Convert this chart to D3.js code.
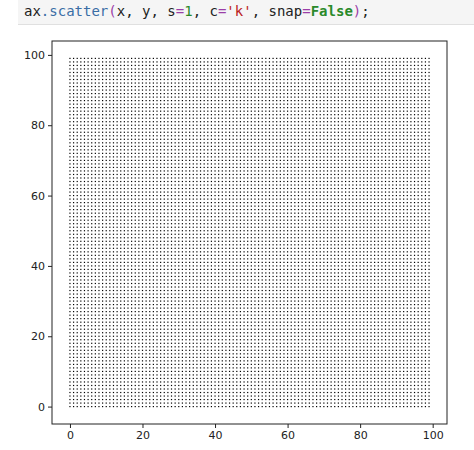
<!DOCTYPE html>
<html><head><meta charset="utf-8">
<script src="https://cdn.jsdelivr.net/npm/d3@7"></script>
<style>
body{margin:0;background:#fff;}
.code{position:absolute;left:18px;top:0;width:460px;height:25px;background:#f5f5f5;border-bottom:1px solid #e0e0e0;
 font-family:"DejaVu Sans Mono",monospace;font-size:14px;line-height:22px;padding-left:6px;color:#212121;box-sizing:border-box;}
.o{color:#9b3ea8}.n{color:#2a8a2a}.s{color:#ba2121}.k{color:#2a8a2a;font-weight:bold}.p{color:#3a6ea5}
svg{position:absolute;left:0;top:0}
</style></head><body>
<svg id="chart" width="474" height="450"></svg>
<div class="code">ax<span class="p">.scatter</span><span class="o">(</span>x, y, s<span class="o">=</span><span class="n">1</span>, c<span class="o">=</span><span class="s">'k'</span>, snap<span class="o">=</span><span class="k">False</span><span class="o">)</span>;</div>
<script>
// grid coordinates: integers 0..99 on each axis
const gridX = d3.range(0, 100);
const gridY = d3.range(0, 100);
const xTicks = [0, 20, 40, 60, 80, 100];
const yTicks = [0, 20, 40, 60, 80, 100];

const svg = d3.select("#chart");
const mLeft = 52, mRight = 447, mTop = 41, mBottom = 424;

const x = d3.scaleLinear().domain([-4.95, 103.95]).range([mLeft, mRight]);
const y = d3.scaleLinear().domain([-4.95, 103.95]).range([mBottom, mTop]);

const pts = [];
gridY.forEach(j => gridX.forEach(i => pts.push([i, j])));

svg.append("g").selectAll("rect")
    .data(pts)
    .enter().append("rect")
    .attr("x", d => x(d[0]) - 0.6)
    .attr("y", d => y(d[1]) - 0.6)
    .attr("width", 1.2)
    .attr("height", 1.2)
    .attr("fill", "#000");

const xAxis = svg.append("g")
    .attr("transform", `translate(0,${mBottom})`)
    .call(d3.axisBottom(x).tickValues(xTicks).tickSize(4).tickPadding(3));
const yAxis = svg.append("g")
    .attr("transform", `translate(${mLeft},0)`)
    .call(d3.axisLeft(y).tickValues(yTicks).tickSize(4).tickPadding(3));

[xAxis, yAxis].forEach(a => {
    a.select(".domain").remove();
    a.selectAll("text").attr("font-family", "DejaVu Sans").attr("font-size", 11).attr("fill", "#222");
    a.selectAll("line").attr("stroke", "#222");
});

svg.append("rect")
    .attr("x", mLeft).attr("y", mTop)
    .attr("width", mRight - mLeft).attr("height", mBottom - mTop)
    .attr("fill", "none").attr("stroke", "#222").attr("stroke-width", 1);
</script>
</body></html>
